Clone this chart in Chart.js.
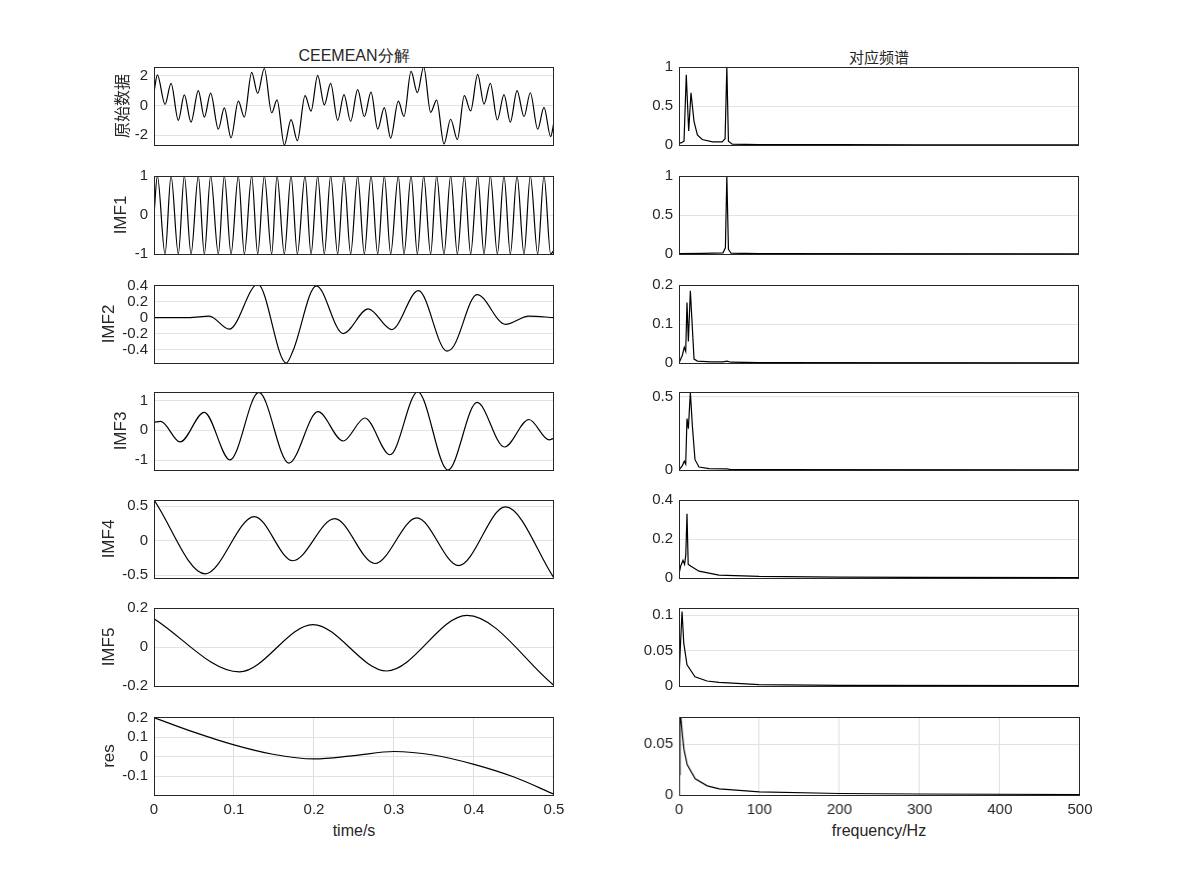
<!DOCTYPE html>
<html>
<head>
<meta charset="utf-8">
<script src="https://cdn.jsdelivr.net/npm/chart.js@4/dist/chart.umd.min.js"></script>
<style>
  body { margin: 0; background: #fff; width: 1192px; height: 894px; position: relative; overflow: hidden; font-family: "Liberation Sans", Arial, sans-serif; }
  canvas { position: absolute; }
  .lbl { position: absolute; color: #262626; font-size: 16px; text-align: center; white-space: nowrap; }
</style>
</head>
<body>
<div class="lbl" style="left:154px;width:400px;top:46px;">CEEMEAN分解</div>
<div class="lbl" style="left:679px;width:400px;top:46px;font-family:'Noto Sans CJK SC';font-size:15px;">对应频谱</div>
<div class="lbl" style="left:154px;width:400px;top:822px;">time/s</div>
<div class="lbl" style="left:679px;width:400px;top:822px;">frequency/Hz</div>
<script>
// time-domain extremum points (s)
const sigT = [0, .0042, .0138, .0213, .0304, .0379, .0463, .0554, .0629, .0708, .0804, .0879, .0963, .1054, .1129, .1221, .1296, .1379, .1471, .1538, .1629, .1713, .1792, .1888, .1963, .2046, .2129, .2208, .2296, .2375,
  .2458, .2546, .2629, .2713, .2796, .2879, .2958, .3054, .3125, .3213, .3292, .3371, .3458, .3533, .3625, .3708, .3792, .3879, .3958, .4046, .4125, .4204, .4292, .4375, .4454, .4538, .4625, .4704, .4796, .4875, .4958, .5];
const sigV = [0.9, 2.07, 0.07, 1.49, -1.0, 0.71, -1.13, 1.0, -0.78, 0.84, -1.6, -0.16, -2.18, 0.29, -0.78, 2.24, 0.82, 2.5, -0.49, 0.38, -2.67, -0.96, -2.38, 0.67, -0.38, 2.04, 0.04, 1.49, -1.0, 0.73,
  -1.07, 1.07, -0.76, 0.9, -1.6, -0.14, -2.2, 0.29, -0.74, 2.3, 0.87, 2.6, -0.46, 0.36, -2.6, -0.93, -2.3, 0.66, -0.37, 2.1, 0.09, 1.5, -0.97, 0.73, -1.13, 1.0, -0.76, 0.86, -1.6, -0.13, -2.1, -1.1];
const imf1V = [0, 1, -1, 1, -1, 1, -1, 1, -1, 1, -1, 1, -1, 1, -1, 1, -1, 1, -1, 1, -1, 1, -1, 1, -1, 1, -1, 1, -1, 1,
  -1, 1, -1, 1, -1, 1, -1, 1, -1, 1, -1, 1, -1, 1, -1, 1, -1, 1, -1, 1, -1, 1, -1, 1, -1, 1, -1, 1, -1, 1, -1, -0.9];
const imf2T = [0, .0439, .069, .0941, .1297, .1653, .1736, .2029, .2364, .2678, .2971, .3305, .3661, .3745, .4038, .4393, .4686, .5];
const imf2V = [0, 0, 0.02, -0.145, 0.42, -0.57, -0.42, 0.40, -0.2, 0.11, -0.15, 0.34, -0.42, -0.36, 0.29, -0.085, 0.02, 0];
const imf3T = [0, .0084, .0326, .0628, .095, .131, .1686, .205, .2364, .2636, .295, .3297, .3674, .4038, .4381, .4686, .4937, .5];
const imf3V = [0.27, 0.3, -0.39, 0.6, -0.99, 1.27, -1.1, 0.62, -0.36, 0.41, -0.82, 1.28, -1.33, 0.93, -0.56, 0.36, -0.32, -0.27];
const imf4T = [0, .064, .1255, .1736, .2259, .2762, .3285, .3808, .4393, .5];
const imf4V = [0.59, -0.48, 0.35, -0.29, 0.32, -0.33, 0.33, -0.36, 0.49, -0.54];
const imf5T = [0, .1067, .1987, .2908, .3912, .5];
const imf5V = [0.145, -0.128, 0.115, -0.123, 0.162, -0.197];
const resT = [0, .048, .1, .1485, .2, .25, .3, .349, .4, .45, .5];
const resV = [0.2, 0.128, 0.06, 0.012, -0.012, 0.005, 0.026, 0.008, -0.04, -0.105, -0.193];

// spectra (Hz, amplitude)
const sp0F = [0, 3, 6.3, 9.1, 12.1, 15, 18.8, 23, 29, 42, 54, 57.6, 59.8, 61.8, 66.6, 100, 200, 300, 400, 500];
const sp0A = [0.02, 0.03, 0.05, 0.9, 0.18, 0.67, 0.3, 0.13, 0.07, 0.04, 0.04, 0.08, 1.0, 0.05, 0.01, 0.005, 0.004, 0.003, 0.003, 0.003];
const sp1F = [0, 30, 55, 58, 59.8, 61.8, 65, 100, 500];
const sp1A = [0.005, 0.008, 0.015, 0.08, 1.0, 0.06, 0.01, 0.004, 0.002];
const sp2F = [0, 4.2, 6.6, 8.4, 10, 11.7, 14.2, 16.7, 18.8, 23, 40, 55, 60, 65, 100, 500];
const sp2A = [0, 0.02, 0.04, 0.03, 0.155, 0.055, 0.185, 0.09, 0.01, 0.005, 0.003, 0.003, 0.005, 0.002, 0.001, 0.0005];
const sp3F = [0, 4.2, 6.6, 8.4, 10, 11.7, 14.2, 16.7, 20, 25, 37.6, 59.6, 65, 100, 500];
const sp3A = [0, 0.03, 0.06, 0.04, 0.35, 0.28, 0.53, 0.3, 0.07, 0.02, 0.01, 0.008, 0.003, 0.002, 0.001];
const sp4F = [0, 2, 5, 7, 8.5, 10, 11.5, 15, 25, 50, 100, 200, 300, 500];
const sp4A = [0.02, 0.06, 0.09, 0.07, 0.12, 0.33, 0.07, 0.06, 0.035, 0.015, 0.008, 0.004, 0.003, 0.002];
const sp5F = [0, 1.5, 3.8, 6, 10, 20, 35, 50, 100, 200, 500];
const sp5A = [0.01, 0.05, 0.105, 0.06, 0.03, 0.013, 0.007, 0.005, 0.002, 0.001, 0.0005];
const sp6F = [0, 1, 2, 4, 6, 10, 20, 35, 50, 100, 200, 300, 500];
const sp6A = [0.02, 0.07, 0.077, 0.06, 0.045, 0.03, 0.016, 0.009, 0.006, 0.003, 0.0015, 0.001, 0.0005];

const rowLabels = ['原始数据', 'IMF1', 'IMF2', 'IMF3', 'IMF4', 'IMF5', 'res'];
const leftSeries = [[sigT, sigV], [sigT, imf1V], [imf2T, imf2V], [imf3T, imf3V], [imf4T, imf4V], [imf5T, imf5V], [resT, resV]];
const leftRanges = [[-2.67, 2.6], [-1, 1], [-0.57, 0.41], [-1.33, 1.28], [-0.54, 0.59], [-0.2, 0.2], [-0.197, 0.203]];
const leftTicks = [[-2, 0, 2], [-1, 0, 1], [-0.4, -0.2, 0, 0.2, 0.4], [-1, 0, 1], [-0.5, 0, 0.5], [-0.2, 0, 0.2], [-0.1, 0, 0.1, 0.2]];
const rightSeries = [[sp0F, sp0A], [sp1F, sp1A], [sp2F, sp2A], [sp3F, sp3A], [sp4F, sp4A], [sp5F, sp5A], [sp6F, sp6A]];
const rightRanges = [[0, 1], [0, 1], [0, 0.2], [0, 0.53], [0, 0.4], [0, 0.11], [0, 0.077]];
const rightTicks = [[0, 0.5, 1], [0, 0.5, 1], [0, 0.1, 0.2], [0, 0.5], [0, 0.2, 0.4], [0, 0.05, 0.1], [0, 0.05]];
const leftXTicks = [0, 0.1, 0.2, 0.3, 0.4, 0.5];
const rightXTicks = [0, 100, 200, 300, 400, 500];

const rowTops = [67, 176, 285, 392, 500, 608, 717];
const plotH = 78, plotW = 400, axisW = 80, padTop = 6, padRight = 8;
const ink = '#262626';
const tickFont = { family: "'Liberation Sans', Arial, sans-serif", size: 15 };

// box + rotated y label
const framePlugin = {
  id: 'frame',
  afterDraw(chart, args, opts) {
    const { ctx, chartArea: a } = chart;
    ctx.save();
    ctx.strokeStyle = ink;
    ctx.lineWidth = 1;
    ctx.strokeRect(a.left + 0.5, a.top + 0.5, a.right - a.left - 1, a.bottom - a.top);
    if (opts.label) {
      const ys = chart.scales.y;
      ctx.font = '15px ' + tickFont.family;
      let w = 0;
      ys.ticks.forEach(t => { w = Math.max(w, ctx.measureText(fmt(t.value)).width); });
      const cjk = /[^\x00-\x7f]/.test(opts.label);
      ctx.font = cjk ? '16px "Noto Sans CJK SC"' : '17px ' + tickFont.family;
      ctx.fillStyle = ink;
      ctx.textAlign = 'center';
      ctx.textBaseline = 'middle';
      ctx.translate(a.left - 8 - w - 11, (a.top + a.bottom) / 2);
      ctx.rotate(-Math.PI / 2);
      ctx.fillText(opts.label, 0, 0);
    }
    ctx.restore();
  }
};

function fmt(v) { return String(Math.round(v * 1000) / 1000); }

function makePlot(leftPx, row, xs, ys, xMax, xTicks, yRange, yTicks, label, smooth) {
  const last = row === rowTops.length - 1;
  const c = document.createElement('canvas');
  const w = axisW + plotW + padRight, h = padTop + plotH + (last ? 30 : 2);
  c.width = w; c.height = h;
  c.style.width = w + 'px'; c.style.height = h + 'px';
  document.body.appendChild(c);
  const chart = new Chart(c, {
    type: 'line',
    data: { datasets: [{ data: xs.map((x, i) => ({ x: x, y: ys[i] })), borderColor: '#000', borderWidth: 1.2, pointRadius: 0, fill: false,
      cubicInterpolationMode: smooth ? 'monotone' : 'default', tension: 0 }] },
    options: {
      responsive: false, maintainAspectRatio: false, animation: false, devicePixelRatio: 1,
      layout: { padding: { top: padTop, right: padRight, left: 0, bottom: 0 } },
      plugins: { legend: { display: false }, tooltip: { enabled: false }, frame: { label: label } },
      scales: {
        x: {
          type: 'linear', min: 0, max: xMax,
          afterBuildTicks: s => { s.ticks = xTicks.map(v => ({ value: v })); },
          afterFit: s => { s.height = last ? 30 : 2; },
          grid: { display: last, color: '#dedede', drawTicks: false },
          border: { display: false },
          ticks: { display: last, autoSkip: false, color: ink, font: tickFont, padding: 6, maxRotation: 0, callback: v => fmt(v) }
        },
        y: {
          min: yRange[0], max: yRange[1],
          afterBuildTicks: s => { s.ticks = yTicks.map(v => ({ value: v })); },
          afterFit: s => { s.width = axisW; },
          grid: { color: '#e3e3e3', drawTicks: false },
          border: { display: false },
          ticks: { autoSkip: false, color: ink, font: tickFont, padding: 6, callback: v => fmt(v) }
        }
      }
    },
    plugins: [framePlugin]
  });
  // grow the canvas so the plot area gets the wanted size, then place it
  let a = chart.chartArea;
  const nw = w + plotW - (a.right - a.left), nh = h + plotH - (a.bottom - a.top);
  c.style.width = nw + 'px'; c.style.height = nh + 'px';
  chart.resize(nw, nh);
  a = chart.chartArea;
  c.style.left = (leftPx - a.left) + 'px';
  c.style.top = (rowTops[row] - a.top) + 'px';
}

for (let r = 0; r < rowTops.length; r++) {
  makePlot(154, r, leftSeries[r][0], leftSeries[r][1], 0.5, leftXTicks, leftRanges[r], leftTicks[r], rowLabels[r], true);
  makePlot(679, r, rightSeries[r][0], rightSeries[r][1], 500, rightXTicks, rightRanges[r], rightTicks[r], null, false);
}
</script>
</body>
</html>
